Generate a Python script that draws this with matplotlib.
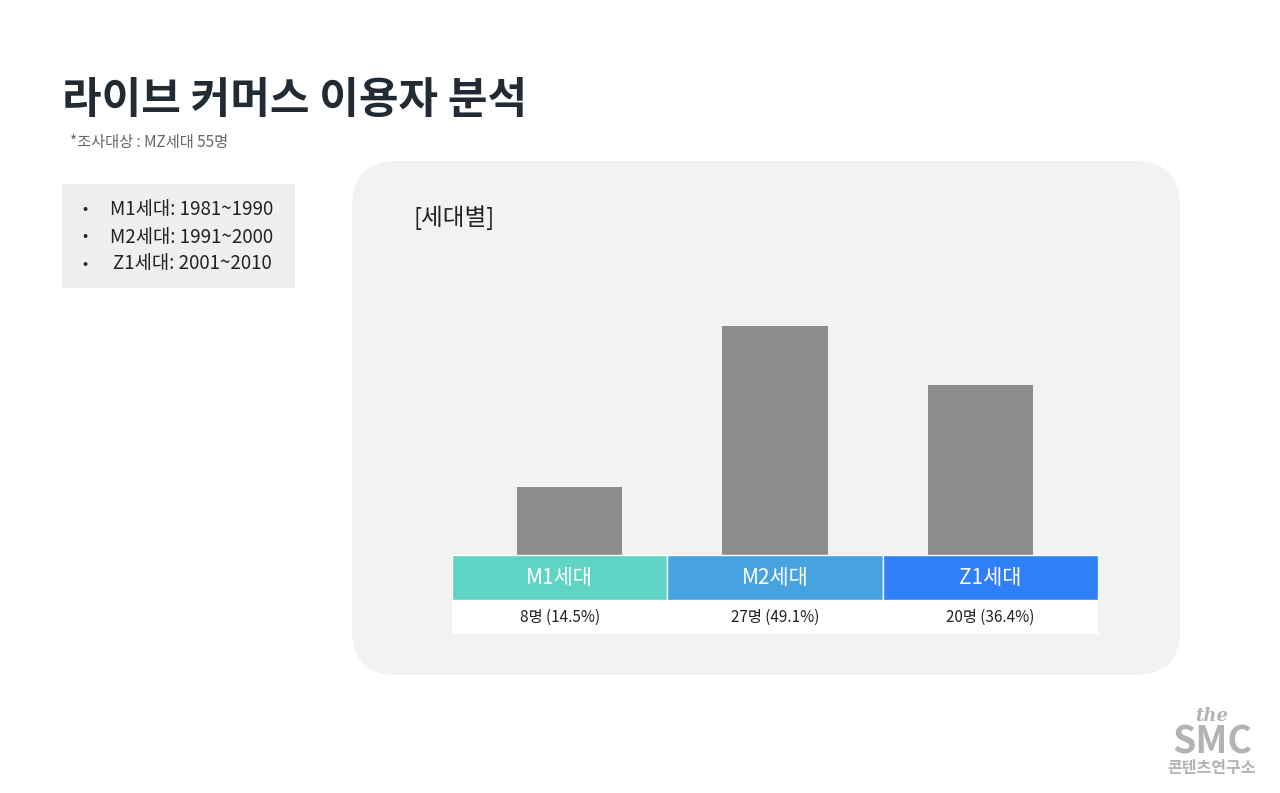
import matplotlib
matplotlib.use("Agg")
import matplotlib.pyplot as plt
from matplotlib import font_manager
from matplotlib.patches import FancyBboxPatch, Rectangle

# register any CJK font file so Korean glyphs resolve
cjk_name = None
for path in font_manager.findSystemFonts():
    if "CJK" in path or "cjk" in path.lower():
        try:
            font_manager.fontManager.addfont(path)
        except Exception:
            pass
for f in font_manager.fontManager.ttflist:
    if "CJK KR" in f.name:
        cjk_name = f.name
        break
if cjk_name is None:
    for f in font_manager.fontManager.ttflist:
        if "CJK" in f.name:
            cjk_name = f.name
            break
plt.rcParams["font.family"] = [cjk_name or "Noto Sans CJK KR", "DejaVu Sans"]

categories = ["M1세대", "M2세대", "Z1세대"]
counts = [8, 27, 20]
shares = [14.5, 49.1, 36.4]
cell_colors = ["#5fd3c4", "#47a3e0", "#2f80f7"]
legend_lines = ["M1세대: 1981~1990", "M2세대: 1991~2000", "Z1세대: 2001~2010"]

W, H = 1280, 793
fig = plt.figure(figsize=(12.8, 7.93), dpi=100)
fig.patch.set_facecolor("white")


def fx(x):
    return x / W


def fy(y):
    return 1 - y / H


fig.text(fx(62), fy(100), "라이브 커머스 이용자 분석", fontsize=31, fontweight="bold",
         color="#222b33", va="center")
fig.text(fx(70), fy(142), "*조사대상 : MZ세대 55명", fontsize=11, color="#666666", va="center")

# legend box
fig.patches.append(Rectangle((fx(62), fy(288)), fx(233), 104 / H, transform=fig.transFigure,
                             facecolor="#efefef", edgecolor="none", zorder=-2))
for i, line in enumerate(legend_lines):
    y = fy(210 + i * 27)
    fig.text(fx(82), y, "•", fontsize=11, color="#222222", va="center")
    fig.text(fx(110 if i < 2 else 113), y, line, fontsize=13.5, color="#222222", va="center")

# rounded panel
fig.patches.append(FancyBboxPatch((fx(352), fy(675)), fx(828), 514 / H,
                                  boxstyle="round,pad=0,rounding_size=0.035",
                                  transform=fig.transFigure, facecolor="#f2f2f2",
                                  edgecolor="none", mutation_aspect=W / H, zorder=-2))
fig.text(fx(413), fy(218), "[세대별]", fontsize=17, color="#222222", va="center")

# chart axes: bars above 0, category cells and value row below
px_per_unit = 8.5
top_px, bottom_px = 300, 634
ax = fig.add_axes([fx(452), fy(bottom_px), fx(1098 - 452), (bottom_px - top_px) / H])
ax.patch.set_alpha(0)
ymax = (555 - top_px) / px_per_unit
cell_h = 45 / px_per_unit
row_h = 34 / px_per_unit
ax.set_xlim(-0.5, 2.5)
ax.set_ylim(-(cell_h + row_h), ymax)
ax.axis("off")

x = list(range(len(categories)))
bar_x = [1 + (i - 1) * 0.955 for i in x]  # bars sit slightly closer together than cells
ax.bar(bar_x, counts, width=0.49, color="#8c8c8c")
ax.bar(x, [cell_h] * 3, bottom=-cell_h, width=1.0, color=cell_colors,
       edgecolor="white", linewidth=1)
ax.bar(x, [row_h] * 3, bottom=-(cell_h + row_h), width=1.0, color="white")
for i, (c, n, s) in enumerate(zip(categories, counts, shares)):
    ax.text(i, -cell_h / 2, c, ha="center", va="center", color="white", fontsize=15)
    ax.text(i, -cell_h - row_h / 2, f"{n}명 ({s}%)", ha="center", va="center",
            color="#222222", fontsize=11)

# logo
fig.text(fx(1212), fy(716), "the", fontsize=13, fontstyle="italic", fontweight="bold",
         color="#b3b3b3", ha="center", va="center", family="DejaVu Serif")
fig.text(fx(1212), fy(742), "SMC", fontsize=27, fontweight="bold", color="#b3b3b3",
         ha="center", va="center")
fig.text(fx(1212), fy(768), "콘텐츠연구소", fontsize=11.5, fontweight="bold", color="#b3b3b3",
         ha="center", va="center")

fig.savefig("out.png", dpi=100)
